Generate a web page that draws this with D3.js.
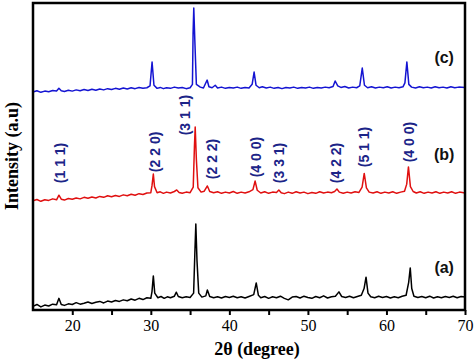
<!DOCTYPE html>
<html>
<head>
<meta charset="utf-8">
<script src="https://cdn.jsdelivr.net/npm/d3@7"></script>
<style>
  html, body { margin: 0; padding: 0; background: #fff; }
  svg { display: block; }
</style>
</head>
<body>
<svg id="chart" width="474" height="360"></svg>
<script>
// ---------- DATA ----------
const xTicks = [20, 25, 30, 35, 40, 45, 50, 55, 60, 65, 70];
const xTickLabels = ["20", "", "30", "", "40", "", "50", "", "60", "", "70"];
const seriesNames = ["(a)", "(b)", "(c)"];
const seriesOffsets = [0, 340, 700];

const patternA = [[15,12],[15.5,18],[16,10],[16.5,16],[17,13],[17.5,19],[18,17],[18.3,38],[18.6,18],[19,15],[19.5,20],[20,18],[20.5,24],[21,19],[21.5,22],[22,26],[22.5,21],[23,25],[23.5,28],[24,23],[24.5,29],[25,26],[25.5,31],[26,28],[26.5,33],[27,30],[27.5,36],[28,32],[28.5,38],[29,34],[29.5,40],[30,38],[30.15,60],[30.32,111],[30.5,55],[30.9,40],[31.3,44],[31.7,38],[32.1,43],[32.5,40],[33,45],[33.25,58],[33.5,44],[34,40],[34.5,43],[35,41],[35.45,55],[35.6,180],[35.73,280],[35.88,160],[36.1,55],[36.5,42],[37,46],[37.2,65],[37.5,44],[38,40],[38.5,43],[39,39],[39.5,44],[40,41],[40.5,45],[41,40],[41.5,43],[42,39],[42.5,44],[43.1,50],[43.42,88],[43.7,48],[44,40],[44.5,44],[45,38],[45.5,43],[46,40],[46.5,45],[47,38],[47.5,33],[48,42],[48.5,44],[49,39],[49.5,45],[50,41],[50.5,38],[51,44],[51.5,40],[52,46],[52.5,39],[53,43],[53.5,45],[53.95,59],[54.3,44],[54.8,41],[55.3,45],[55.8,40],[56.3,44],[56.8,48],[57.15,70],[57.4,107],[57.65,55],[58,43],[58.5,40],[59,45],[59.5,41],[60,44],[60.5,39],[61,43],[61.5,40],[62,45],[62.5,48],[62.83,90],[63.03,137],[63.22,70],[63.5,45],[64,41],[64.5,44],[65,40],[65.5,45],[66,39],[66.5,43],[67,40],[67.5,44],[68,41],[68.5,45],[69,40],[69.5,44],[70,42]];

const patternB = [[15,16],[15.5,20],[16,14],[16.5,19],[17,17],[17.5,22],[18,19],[18.3,34],[18.6,21],[19,18],[19.5,23],[20,21],[20.5,25],[21,22],[21.5,27],[22,24],[22.5,28],[23,25],[23.5,30],[24,27],[24.5,32],[25,29],[25.5,33],[26,30],[26.5,35],[27,32],[27.5,37],[28,34],[28.5,39],[29,36],[29.5,41],[30,42],[30.15,65],[30.32,103],[30.47,62],[30.8,42],[31.2,45],[31.6,40],[32,44],[32.5,41],[33,46],[33.3,51],[33.6,43],[34,40],[34.5,44],[35,42],[35.4,60],[35.55,190],[35.65,256],[35.8,150],[36,58],[36.4,44],[36.8,47],[37.2,64],[37.5,46],[38,42],[38.5,45],[39,40],[39.5,44],[40,41],[40.5,46],[41,40],[41.5,44],[42,41],[42.5,45],[43,52],[43.28,80],[43.55,50],[44,41],[44.5,45],[45,40],[45.5,44],[46,43],[46.3,51],[46.6,42],[47,39],[47.5,44],[48,40],[48.5,45],[49,41],[49.5,44],[50,39],[50.5,43],[51,40],[51.5,45],[52,41],[52.5,44],[53,42],[53.4,46],[53.7,54],[54,44],[54.5,40],[55,44],[55.5,41],[56,45],[56.5,43],[56.9,60],[57.17,105],[57.45,58],[57.8,44],[58.3,41],[58.8,45],[59.3,40],[59.8,44],[60.3,41],[60.8,45],[61.3,40],[61.8,44],[62.3,47],[62.58,70],[62.8,126],[63.05,62],[63.4,46],[63.8,41],[64.3,45],[64.8,40],[65.3,44],[65.8,41],[66.3,45],[66.8,40],[67.3,44],[67.8,41],[68.3,45],[68.8,40],[69.3,44],[70,41]];

const patternC = [[15,10],[15.5,14],[16,9],[16.5,13],[17,11],[17.5,15],[18,13],[18.3,22],[18.6,14],[19,12],[19.5,16],[20,13],[20.5,17],[21,14],[21.5,18],[22,15],[22.5,19],[23,16],[23.5,20],[24,17],[24.5,21],[25,18],[25.5,22],[26,19],[26.5,23],[27,20],[27.5,24],[28,21],[28.5,25],[29,22],[29.5,24],[29.9,30],[30.16,108],[30.4,32],[30.8,22],[31.2,25],[31.6,21],[32,24],[32.5,22],[33,26],[33.5,23],[34,25],[34.5,21],[35,24],[35.3,35],[35.38,200],[35.47,284],[35.6,180],[35.8,35],[36.3,26],[36.7,23],[37.17,49],[37.4,27],[37.8,24],[38.2,32],[38.5,23],[39,26],[39.5,22],[40,25],[40.5,23],[41,26],[41.5,22],[42,25],[42.5,23],[42.9,35],[43.15,75],[43.4,32],[43.8,24],[44.2,27],[44.7,23],[45.2,26],[45.7,22],[46.2,25],[46.7,21],[47.2,25],[47.7,23],[48.2,26],[48.7,22],[49.2,25],[49.7,23],[50.2,26],[50.7,22],[51.2,25],[51.7,23],[52.2,26],[52.7,24],[53.2,28],[53.47,46],[53.8,30],[54.2,25],[54.7,28],[55.2,23],[55.7,26],[56.2,24],[56.6,30],[56.92,88],[57.2,32],[57.6,24],[58.1,27],[58.6,23],[59.1,26],[59.6,24],[60.1,27],[60.6,23],[61.1,26],[61.6,24],[62.1,27],[62.35,40],[62.6,108],[62.85,35],[63.2,26],[63.7,23],[64.2,27],[64.7,24],[65.2,26],[65.7,23],[66.2,27],[66.7,24],[67.2,26],[67.7,23],[68.2,27],[68.7,24],[69.2,26],[70,25]];

// Miller index annotations: label, 2theta, intensity level of label centre
const hklLabels = ["(1 1 1)", "(2 2 0)", "(3 1 1)", "(2 2 2)", "(4 0 0)", "(3 3 1)", "(4 2 2)", "(5 1 1)", "(4 0 0)"];
const hklAngles = [18.44, 30.54, 34.36, 37.8, 43.4, 46.34, 53.6, 57.17, 62.9];
const hklLevels = [479, 515, 635, 492, 498, 479, 479, 531, 547];

// series tag levels
const tagAngle = 67.35;
const tagLevels = [137, 508, 824];

// ---------- CHART ----------
const svg = d3.select("#chart");
const W = 474, H = 360;
const m = { left: 33, right: 9, top: 3, bottom: 50 };

const x = d3.scaleLinear().domain([15, 70]).range([m.left, W - m.right]);
const y = d3.scaleLinear().domain([0, 1000]).range([H - m.bottom, m.top]);

const patterns = [patternA, patternB, patternC];
const colors = ["#000000", "#e01010", "#1414d2"];

const line = d3.line().x(d => x(d[0])).y(d => y(d[1]));

patterns.forEach((p, i) => {
  const data = p.map(d => [d[0], d[1] + seriesOffsets[i]]);
  svg.append("path")
    .datum(data)
    .attr("fill", "none")
    .attr("stroke", colors[i])
    .attr("stroke-width", 1.5)
    .attr("stroke-linejoin", "round")
    .attr("d", line);
});

// frame
svg.append("rect")
  .attr("x", x(15)).attr("y", y(1000))
  .attr("width", x(70) - x(15)).attr("height", y(0) - y(1000))
  .attr("fill", "none").attr("stroke", "#000").attr("stroke-width", 2.5);

// x axis
const xAxis = d3.axisBottom(x)
  .tickValues(xTicks)
  .tickFormat((d, i) => xTickLabels[i])
  .tickSize(5)
  .tickPadding(5);
const gx = svg.append("g").attr("transform", `translate(0,${y(0)})`).call(xAxis);
gx.select(".domain").remove();
gx.selectAll(".tick line").attr("stroke", "#000").attr("stroke-width", 2);
gx.selectAll(".tick text")
  .attr("font-family", "'Liberation Serif', 'Times New Roman', serif")
  .attr("font-size", 16)
  .attr("fill", "#000");

// axis titles
svg.append("text")
  .attr("x", (x(15) + x(70)) / 2 + 8).attr("y", 355)
  .attr("text-anchor", "middle")
  .attr("font-family", "'Liberation Serif', 'Times New Roman', serif")
  .attr("font-weight", "bold").attr("font-size", 18)
  .text("2θ (degree)");

svg.append("text")
  .attr("transform", `translate(18,${156}) rotate(-90)`)
  .attr("text-anchor", "middle")
  .attr("font-family", "'Liberation Serif', 'Times New Roman', serif")
  .attr("font-weight", "bold").attr("font-size", 18)
  .text("Intensity (a.u)");

// hkl labels
hklLabels.forEach((t, i) => {
  svg.append("text")
    .attr("transform", `translate(${x(hklAngles[i])},${y(hklLevels[i])}) rotate(-90)`)
    .attr("text-anchor", "middle")
    .attr("dominant-baseline", "central")
    .attr("font-family", "'Liberation Sans', Arial, sans-serif")
    .attr("font-weight", "bold").attr("font-size", 14)
    .attr("fill", "#1c2488")
    .text(t);
});

// series tags
seriesNames.forEach((t, i) => {
  svg.append("text")
    .attr("x", x(tagAngle)).attr("y", y(tagLevels[i]))
    .attr("text-anchor", "middle")
    .attr("dominant-baseline", "central")
    .attr("font-family", "'Liberation Sans', Arial, sans-serif")
    .attr("font-weight", "bold").attr("font-size", 16)
    .attr("fill", "#111")
    .text(t);
});
</script>
</body>
</html>
